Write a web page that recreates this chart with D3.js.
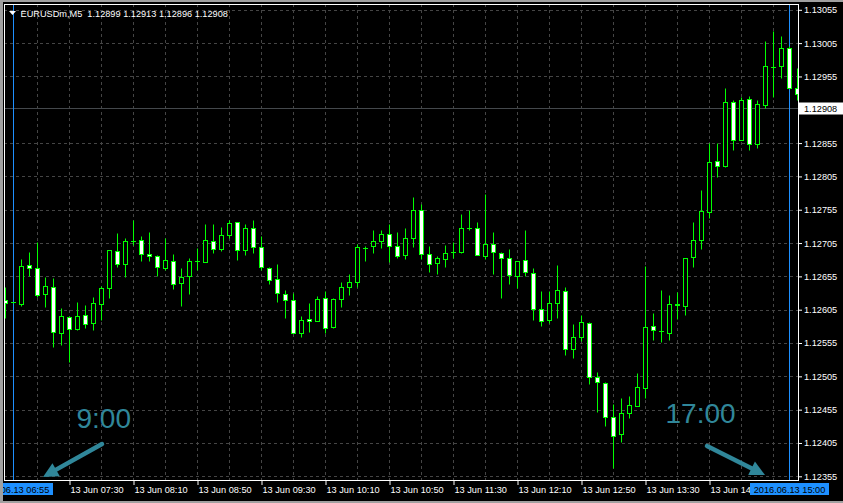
<!DOCTYPE html>
<html>
<head>
<meta charset="utf-8">
<script src="https://cdn.jsdelivr.net/npm/d3@7"></script>
<style>
  html, body { margin: 0; padding: 0; background: #000; }
  svg { display: block; }
  text { font-family: "Liberation Sans", Arial, sans-serif; }
</style>
</head>
<body>
<svg id="chart" width="843" height="503"></svg>
<script>
// 헤더 정보
const symbol = "EURUSDm,M5";
const lastQuote = [1.12899, 1.12913, 1.12896, 1.12908]; // O H L C
const bidPrice = 1.12908;

// 5분봉 100개 (06:50 ~ 15:05)
const opens = [
  1.12619, 1.12616, 1.12613, 1.12672, 1.12668, 1.12628, 1.12639, 1.12570, 1.12594, 1.12576,
  1.12597, 1.12585, 1.12614, 1.12637, 1.12693, 1.12674, 1.12708, 1.12710, 1.12688, 1.12686,
  1.12667, 1.12678, 1.12645, 1.12655, 1.12678, 1.12677, 1.12708, 1.12696, 1.12717, 1.12737,
  1.12695, 1.12728, 1.12699, 1.12668, 1.12651, 1.12629, 1.12620, 1.12570, 1.12591, 1.12588,
  1.12623, 1.12579, 1.12621, 1.12639, 1.12647, 1.12698, 1.12700, 1.12708, 1.12719, 1.12700,
  1.12687, 1.12713, 1.12755, 1.12689, 1.12675, 1.12681, 1.12691, 1.12692, 1.12728, 1.12728,
  1.12686, 1.12704, 1.12690, 1.12683, 1.12655, 1.12680, 1.12660, 1.12606, 1.12590, 1.12615,
  1.12633, 1.12546, 1.12564, 1.12585, 1.12504, 1.12495, 1.12444, 1.12419, 1.12450, 1.12461,
  1.12488, 1.12580, 1.12573, 1.12570, 1.12614, 1.12611, 1.12684, 1.12710, 1.12752, 1.12828,
  1.12820, 1.12917, 1.12860, 1.12921, 1.12854, 1.12912, 1.12969, 1.12970, 1.12998, 1.12938
];
const highs = [
  1.12639, 1.12617, 1.12681, 1.12691, 1.12707, 1.12654, 1.12653, 1.12607, 1.12595, 1.12617,
  1.12612, 1.12624, 1.12641, 1.12695, 1.12720, 1.12713, 1.12740, 1.12715, 1.12722, 1.12687,
  1.12713, 1.12688, 1.12667, 1.12683, 1.12698, 1.12734, 1.12734, 1.12729, 1.12739, 1.12737,
  1.12734, 1.12739, 1.12716, 1.12669, 1.12674, 1.12635, 1.12630, 1.12596, 1.12615, 1.12626,
  1.12633, 1.12623, 1.12646, 1.12658, 1.12704, 1.12701, 1.12724, 1.12724, 1.12734, 1.12722,
  1.12728, 1.12774, 1.12763, 1.12700, 1.12685, 1.12702, 1.12707, 1.12749, 1.12755, 1.12737,
  1.12779, 1.12721, 1.12692, 1.12696, 1.12678, 1.12725, 1.12668, 1.12633, 1.12633, 1.12672,
  1.12639, 1.12584, 1.12597, 1.12587, 1.12512, 1.12497, 1.12464, 1.12473, 1.12475, 1.12510,
  1.12670, 1.12600, 1.12635, 1.12627, 1.12631, 1.12683, 1.12736, 1.12785, 1.12855, 1.12855,
  1.12938, 1.12920, 1.12924, 1.12925, 1.12920, 1.13008, 1.13023, 1.13016, 1.13000, 1.12968
];
const lows = [
  1.12593, 1.12615, 1.12611, 1.12656, 1.12624, 1.12609, 1.12549, 1.12552, 1.12526, 1.12575,
  1.12577, 1.12574, 1.12589, 1.12623, 1.12669, 1.12654, 1.12702, 1.12678, 1.12678, 1.12655,
  1.12664, 1.12636, 1.12611, 1.12629, 1.12665, 1.12677, 1.12690, 1.12693, 1.12712, 1.12679,
  1.12687, 1.12690, 1.12665, 1.12643, 1.12617, 1.12593, 1.12570, 1.12564, 1.12572, 1.12588,
  1.12570, 1.12578, 1.12609, 1.12627, 1.12639, 1.12678, 1.12690, 1.12697, 1.12677, 1.12682,
  1.12681, 1.12699, 1.12681, 1.12662, 1.12658, 1.12669, 1.12683, 1.12690, 1.12724, 1.12687,
  1.12681, 1.12659, 1.12622, 1.12643, 1.12638, 1.12656, 1.12590, 1.12581, 1.12585, 1.12592,
  1.12537, 1.12532, 1.12558, 1.12494, 1.12452, 1.12431, 1.12368, 1.12406, 1.12442, 1.12461,
  1.12473, 1.12560, 1.12556, 1.12560, 1.12591, 1.12597, 1.12669, 1.12696, 1.12742, 1.12804,
  1.12819, 1.12844, 1.12860, 1.12844, 1.12847, 1.12907, 1.12924, 1.12953, 1.12937, 1.12920
];
const closes = [
  1.12615, 1.12616, 1.12671, 1.12667, 1.12627, 1.12641, 1.12571, 1.12596, 1.12576, 1.12596,
  1.12584, 1.12615, 1.12638, 1.12694, 1.12674, 1.12708, 1.12708, 1.12689, 1.12685, 1.12669,
  1.12680, 1.12644, 1.12654, 1.12678, 1.12678, 1.12710, 1.12696, 1.12717, 1.12735, 1.12695,
  1.12728, 1.12699, 1.12669, 1.12650, 1.12630, 1.12620, 1.12570, 1.12590, 1.12588, 1.12621,
  1.12578, 1.12621, 1.12639, 1.12647, 1.12699, 1.12698, 1.12708, 1.12719, 1.12700, 1.12686,
  1.12713, 1.12755, 1.12689, 1.12674, 1.12683, 1.12690, 1.12691, 1.12728, 1.12728, 1.12687,
  1.12704, 1.12692, 1.12683, 1.12657, 1.12678, 1.12662, 1.12606, 1.12588, 1.12615, 1.12635,
  1.12546, 1.12564, 1.12587, 1.12504, 1.12496, 1.12444, 1.12416, 1.12450, 1.12462, 1.12489,
  1.12579, 1.12574, 1.12573, 1.12614, 1.12612, 1.12683, 1.12710, 1.12753, 1.12827, 1.12821,
  1.12917, 1.12860, 1.12920, 1.12854, 1.12914, 1.12971, 1.12969, 1.12998, 1.12938, 1.12929
];

// 시간축 라벨 (봉 인덱스 기준)
const timeTickBars = [8, 16, 24, 32, 40, 48, 56, 64, 72, 80, 88];
const timeTickLabels = [
  "13 Jun 07:30", "13 Jun 08:10", "13 Jun 08:50", "13 Jun 09:30", "13 Jun 10:10",
  "13 Jun 10:50", "13 Jun 11:30", "13 Jun 12:10", "13 Jun 12:50", "13 Jun 13:30", "13 Jun 14:10"
];
// 가격축 눈금
const priceTicks = [
  1.12355, 1.12405, 1.12455, 1.12505, 1.12555, 1.12605, 1.12655, 1.12705,
  1.12755, 1.12805, 1.12855, 1.12955, 1.13005, 1.13055
];
// 세로선 오브젝트
const markerBars = [1, 98];
const markerLabels = ["2016.06.13 06:55", "2016.06.13 15:00"];
// 주석 텍스트
const notes = ["9:00", "17:00"];

const svg = d3.select("#chart");
const L = 4, R = 798, T = 4, B = 480; // 차트 영역
const GREEN = "#00ff00";

const x = d3.scaleLinear().domain([0, 99]).range([5.5, 797.5]);
const y = d3.scaleLinear().domain([1.12355, 1.13055]).range([476.3, 9.8]);
const py = v => Math.round(y(v)) + 0.5; // 픽셀 정렬

svg.append("rect").attr("width", 843).attr("height", 503).attr("fill", "#000");

svg.append("defs").append("clipPath").attr("id", "plot")
  .append("rect").attr("x", L + 0.5).attr("y", T + 0.5).attr("width", R - L).attr("height", B - T);

const plot = svg.append("g").attr("clip-path", "url(#plot)");

// 그리드
const gridColor = "#454545";
plot.append("g").selectAll("line")
  .data(priceTicks)
  .join("line")
  .attr("x1", L).attr("x2", R)
  .attr("y1", d => py(d)).attr("y2", d => py(d))
  .attr("stroke", gridColor).attr("stroke-dasharray", "3,3");

plot.append("g").selectAll("line")
  .data(d3.range(4, 100, 4))
  .join("line")
  .attr("x1", d => x(d)).attr("x2", d => x(d))
  .attr("y1", T).attr("y2", B)
  .attr("stroke", gridColor).attr("stroke-dasharray", "3,3");

// 현재가 라인
plot.append("line")
  .attr("x1", L).attr("x2", R)
  .attr("y1", py(bidPrice)).attr("y2", py(bidPrice))
  .attr("stroke", "#44484c");

// 세로선 오브젝트
plot.append("g").selectAll("line")
  .data(markerBars)
  .join("line")
  .attr("x1", d => x(d)).attr("x2", d => x(d))
  .attr("y1", T).attr("y2", B)
  .attr("stroke", "#1e90ff");

// 캔들
const bars = opens.map((o, i) => ({ i, o, h: highs[i], l: lows[i], c: closes[i] }));
const candle = plot.append("g").selectAll("g").data(bars).join("g");

candle.append("line")
  .attr("x1", d => x(d.i)).attr("x2", d => x(d.i))
  .attr("y1", d => py(d.h)).attr("y2", d => py(d.l))
  .attr("stroke", GREEN);

candle.each(function (d) {
  const g = d3.select(this);
  const top = Math.round(y(Math.max(d.o, d.c)));
  const bot = Math.round(y(Math.min(d.o, d.c)));
  if (bot - top < 1) {
    g.append("line")
      .attr("x1", x(d.i) - 2.5).attr("x2", x(d.i) + 2.5)
      .attr("y1", top + 0.5).attr("y2", top + 0.5)
      .attr("stroke", GREEN);
  } else {
    g.append("rect")
      .attr("x", x(d.i) - 2).attr("width", 4)
      .attr("y", top + 0.5).attr("height", bot - top)
      .attr("fill", d.c > d.o ? "#000" : "#fff")
      .attr("stroke", GREEN);
  }
});

// 주석 (화살표 + 시간)
const noteColor = "#30879a";
const arrows = [
  { text: notes[0], tx: 76.5, ty: 428, from: [102, 444], to: [43, 477] },
  { text: notes[1], tx: 665.5, ty: 423, from: [707, 446], to: [765, 475] }
];
arrows.forEach(a => {
  const dx = a.to[0] - a.from[0], dy = a.to[1] - a.from[1];
  const len = Math.hypot(dx, dy), ux = dx / len, uy = dy / len;
  const hl = 15, hw = 7.5;
  const bx = a.to[0] - ux * hl, by = a.to[1] - uy * hl;
  plot.append("line")
    .attr("x1", a.from[0]).attr("y1", a.from[1])
    .attr("x2", bx + ux * 2).attr("y2", by + uy * 2)
    .attr("stroke", noteColor).attr("stroke-width", 4.5).attr("stroke-linecap", "round");
  plot.append("path")
    .attr("d", `M${a.to[0]},${a.to[1]}L${bx - uy * hw},${by + ux * hw}L${bx + uy * hw},${by - ux * hw}Z`)
    .attr("fill", noteColor);
  plot.append("text")
    .attr("x", a.tx).attr("y", a.ty)
    .attr("font-family", "DejaVu Sans")
    .attr("font-size", 28)
    .attr("fill", noteColor)
    .text(a.text);
});

// 헤더
svg.append("path").attr("d", "M9,11L16,11L12.5,15Z").attr("fill", "#fff");
svg.append("text")
  .attr("x", 20.5).attr("y", 16.5)
  .attr("font-size", 9.2).attr("fill", "#fff")
  .style("white-space", "pre")
  .text(symbol + "  " + lastQuote.map(v => v.toFixed(5)).join(" "));

// 프레임
svg.append("rect")
  .attr("x", L + 0.5).attr("y", T + 0.5).attr("width", R - L).attr("height", B - T)
  .attr("fill", "none").attr("stroke", "#fff");

// 가격축
const yAxis = svg.append("g")
  .attr("transform", `translate(${R},0)`)
  .call(d3.axisRight(y).tickValues(priceTicks).tickFormat(d3.format(".5f")).tickSize(4).tickSizeOuter(0).tickPadding(2));
yAxis.select(".domain").remove();
yAxis.selectAll("line").attr("stroke", "#fff");
yAxis.selectAll("text").attr("fill", "#fff").attr("font-size", 9.2)
  .attr("font-family", "Liberation Sans, Arial, sans-serif");

// 현재가 라벨
svg.append("rect")
  .attr("x", 799).attr("y", py(bidPrice) - 6).attr("width", 44).attr("height", 12)
  .attr("fill", "#fff");
svg.append("text")
  .attr("x", 804).attr("y", py(bidPrice) + 3)
  .attr("font-size", 9.2).attr("fill", "#000")
  .text(bidPrice.toFixed(5));

// 시간축
const xAxis = svg.append("g")
  .attr("transform", `translate(0,${B})`)
  .call(d3.axisBottom(x).tickValues(timeTickBars).tickFormat((d, i) => timeTickLabels[i]).tickSize(5).tickSizeOuter(0));
xAxis.select(".domain").remove();
xAxis.selectAll("line").attr("stroke", "#fff");
xAxis.selectAll("text")
  .attr("fill", "#fff").attr("font-size", 9.2)
  .attr("font-family", "Liberation Sans, Arial, sans-serif")
  .attr("text-anchor", "start").attr("x", 0.5).attr("y", 6.5);

// 세로선 라벨 (파란 박스)
const mk = svg.append("g").selectAll("g").data(markerBars).join("g")
  .attr("transform", d => `translate(${x(d)},0)`);
mk.append("rect")
  .attr("x", -39.5).attr("y", 483).attr("width", 79).attr("height", 12)
  .attr("fill", "#1e90ff");
mk.append("text")
  .attr("y", 493).attr("text-anchor", "middle")
  .attr("font-size", 9.2).attr("fill", "#000")
  .text((d, i) => markerLabels[i]);

// 창 테두리
svg.append("rect").attr("x", 0).attr("y", 0).attr("width", 3).attr("height", 503).attr("fill", "#a0a0a0");
svg.append("rect").attr("x", 0).attr("y", 0).attr("width", 843).attr("height", 2).attr("fill", "#a0a0a0");
svg.append("rect").attr("x", 0).attr("y", 501).attr("width", 843).attr("height", 2).attr("fill", "#a0a0a0");
</script>
</body>
</html>
